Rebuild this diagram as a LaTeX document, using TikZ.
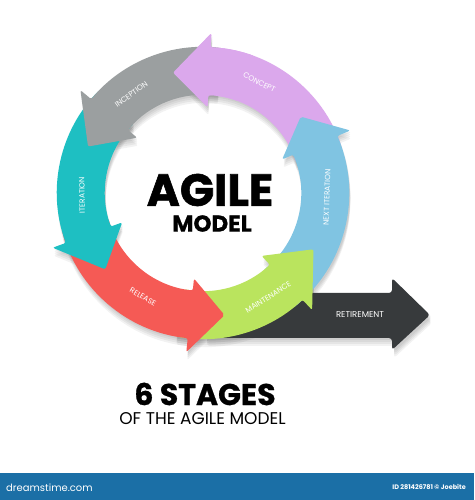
\documentclass[tikz,border=0pt]{standalone}
\usepackage{fontspec}
\setmainfont{Poppins}
\usetikzlibrary{calc}
\definecolor{cpurple}{HTML}{DBA8EC}
\definecolor{cgray}{HTML}{9B9FA0}
\definecolor{cteal}{HTML}{1EBFC2}
\definecolor{cred}{HTML}{F55A55}
\definecolor{cgreen}{HTML}{BAE45E}
\definecolor{cblue}{HTML}{80C4E2}
\definecolor{cdark}{HTML}{373A3C}
\definecolor{cbar}{HTML}{1B6FA6}
\newcommand{\ringarrow}[4]{%
  \fill[#1, rounded corners=2pt] (#2:146) arc[start angle=#2,end angle=#3,radius=146]
    -- (#3:160) -- (#4:124) -- (#3:86) -- (#3:98)
    arc[start angle=#3,end angle=#2,radius=98] -- cycle;}
\newcommand{\retarrow}[1]{%
  \fill[#1, rounded corners=3pt] (205,162) -- (392,162) -- (392,150) -- (430,185)
    -- (392,222) -- (392,207) -- (205,207) -- cycle;}
\begin{document}
\begin{tikzpicture}[x=1pt,y=1pt,
  lbl/.style={text=white, font=\fontsize{7.5}{8}\selectfont, inner sep=0pt},
  title/.style={inner sep=0pt, text=black},
  shade/.style={black, opacity=0.05}]
\useasboundingbox (0,0) rectangle (474,500);
\fill[white] (0,0) rectangle (474,500);
% soft shadows
\foreach \d in {2,4,6,8} {
  \begin{scope}[shift={(2,-\d)}]
    \retarrow{shade}
  \end{scope}
  \begin{scope}[shift={(203+1,307-\d)}]
    \ringarrow{shade}{18}{87}{104}
    \ringarrow{shade}{308}{383}{398}
    \ringarrow{shade}{259}{313}{333}
    \ringarrow{shade}{195}{264}{280}
    \ringarrow{shade}{135}{200}{218}
    \ringarrow{shade}{82}{140}{158}
  \end{scope}
}
% retirement arrow
\retarrow{cdark}
\node[lbl, font=\fontsize{8.5}{9}\selectfont] (ret) at (360,185) {RETIREMENT};
% ring
\begin{scope}[shift={(203,307)}]
  \ringarrow{cpurple}{18}{87}{104}
  \ringarrow{cblue}{308}{383}{398}
  \ringarrow{cgreen}{259}{313}{333}
  \ringarrow{cred}{195}{264}{280}
  \ringarrow{cteal}{135}{200}{218}
  \ringarrow{cgray}{82}{140}{158}
  \begin{scope}
    \clip (0,0) -- (70:200) arc[start angle=70,end angle=125,radius=200] -- cycle;
    \ringarrow{cpurple}{18}{87}{104}
  \end{scope}
  \node[lbl, rotate=-27] (concept) at (63:124) {CONCEPT};
  \node[lbl, rotate=36] (inception) at (126:122) {INCEPTION};
  \node[lbl, rotate=91] (iteration) at (181:121) {ITERATION};
  \node[lbl, rotate=-30] (release) at (240:120) {RELEASE};
  \node[lbl, rotate=32] (maint) at (302:123) {MAINTENANCE};
  \node[lbl, rotate=88] (next) at (-2:124) {NEXT ITERATION};
\end{scope}
% centre title
\node[title, font=\fontsize{45}{45}\selectfont\bfseries\addfontfeatures{FakeBold=1.3}] (agile) at (210,310) {AGILE};
\node[title, font=\fontsize{23}{23}\selectfont\bfseries\addfontfeatures{FakeBold=0.8}] (model) at (212,276.5) {MODEL};
% bottom titles
\node[title, font=\fontsize{30}{30}\selectfont\bfseries\addfontfeatures{FakeBold=0.8}] (stages) at (205,106) {6 STAGES};
\node[title, font=\fontsize{17}{17}\selectfont] (ofthe) at (202.5,81) {OF THE AGILE MODEL};
% footer bar
\fill[cbar] (0,0) rectangle (474,27);
\node[inner sep=0pt, anchor=west, text=white, font=\fontsize{10}{10}\selectfont] (dt) at (6,12) {dreamstime.com};
\node[inner sep=0pt, anchor=east, text=white, font=\fontsize{6.5}{7}\selectfont\bfseries] (id) at (466,13) {ID 281426781 © Joebite};
\end{tikzpicture}
\end{document}
